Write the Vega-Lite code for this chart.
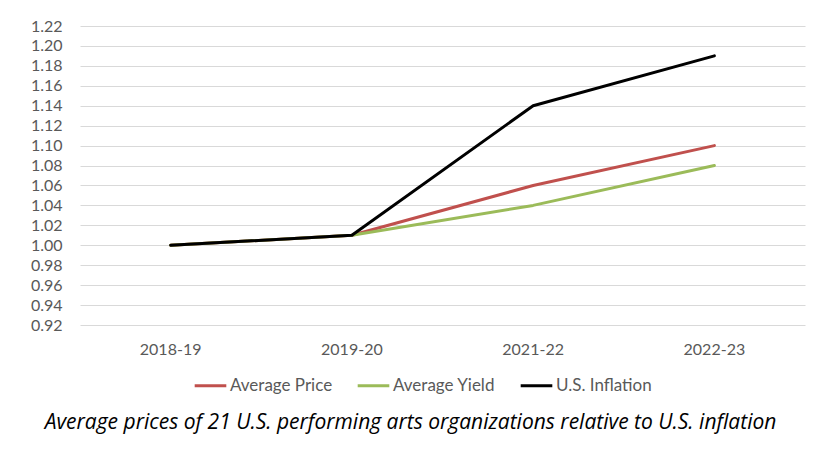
{
  "$schema": "https://vega.github.io/schema/vega-lite/v6.json",
  "autosize": "none",
  "padding": {"left": 80, "top": 26, "right": 30, "bottom": 125},
  "width": 725,
  "height": 299,
  "background": "white",
  "title": {
    "text": "Average prices of 21 U.S. performing arts organizations relative to U.S. inflation",
    "orient": "bottom",
    "anchor": "middle",
    "font": "Open Sans",
    "fontSize": 21,
    "fontStyle": "italic",
    "fontWeight": "normal",
    "color": "#000000",
    "offset": 18,
    "dx": -32
  },
  "data": {
    "values": [
      {"year": "2018-19", "series": "Average Price", "value": 1.00},
      {"year": "2019-20", "series": "Average Price", "value": 1.01},
      {"year": "2021-22", "series": "Average Price", "value": 1.06},
      {"year": "2022-23", "series": "Average Price", "value": 1.10},
      {"year": "2018-19", "series": "Average Yield", "value": 1.00},
      {"year": "2019-20", "series": "Average Yield", "value": 1.01},
      {"year": "2021-22", "series": "Average Yield", "value": 1.04},
      {"year": "2022-23", "series": "Average Yield", "value": 1.08},
      {"year": "2018-19", "series": "U.S. Inflation", "value": 1.00},
      {"year": "2019-20", "series": "U.S. Inflation", "value": 1.01},
      {"year": "2021-22", "series": "U.S. Inflation", "value": 1.14},
      {"year": "2022-23", "series": "U.S. Inflation", "value": 1.19}
    ]
  },
  "mark": {"type": "line", "strokeWidth": 3, "strokeCap": "round", "strokeJoin": "round"},
  "encoding": {
    "x": {
      "field": "year",
      "type": "ordinal",
      "scale": {"type": "band", "paddingInner": 0, "paddingOuter": 0},
      "axis": {
        "title": null,
        "labelAngle": 0,
        "domain": false,
        "ticks": false,
        "labelPadding": 16,
        "labelFont": "Lato",
        "labelFontSize": 16,
        "labelColor": "#595959"
      }
    },
    "y": {
      "field": "value",
      "type": "quantitative",
      "scale": {"domain": [0.92, 1.22], "nice": false, "zero": false},
      "axis": {
        "title": null,
        "values": [0.92, 0.94, 0.96, 0.98, 1.00, 1.02, 1.04, 1.06, 1.08, 1.10, 1.12, 1.14, 1.16, 1.18, 1.20, 1.22],
        "format": ".2f",
        "domain": false,
        "ticks": false,
        "labelPadding": 18,
        "labelFont": "Lato",
        "labelFontSize": 16,
        "labelColor": "#595959",
        "grid": true,
        "gridColor": "#d9d9d9",
        "gridWidth": 1.2
      }
    },
    "color": {
      "field": "series",
      "type": "nominal",
      "sort": ["Average Price", "Average Yield", "U.S. Inflation"],
      "scale": {
        "domain": ["Average Price", "Average Yield", "U.S. Inflation"],
        "range": ["#C0504D", "#9BBB59", "#000000"]
      },
      "legend": {
        "title": null,
        "orient": "none",
        "legendX": 113,
        "legendY": 342,
        "direction": "horizontal",
        "symbolType": "stroke",
        "symbolSize": 1000,
        "symbolStrokeWidth": 3,
        "labelFont": "Lato",
        "labelFontSize": 17,
        "labelColor": "#595959",
        "labelOffset": 2,
        "columnPadding": 18
      }
    }
  },
  "config": {
    "view": {"stroke": null}
  }
}
